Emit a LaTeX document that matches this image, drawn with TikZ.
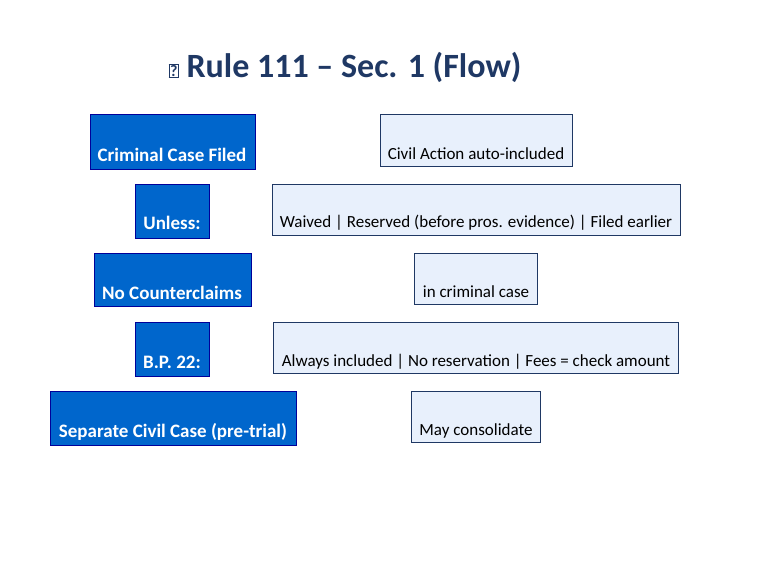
\documentclass[tikz,border=0pt]{standalone}
\usepackage{fontspec}
\setmainfont{Carlito}
\begin{document}
\begin{tikzpicture}[x=1pt,y=-1pt,
 bbox/.style={draw=blue!60!black,fill={rgb,255:red,0;green,102;blue,204},line width=0.8pt,anchor=north west,inner sep=0},
 lbox/.style={draw={rgb,255:red,31;green,56;blue,100},fill={rgb,255:red,232;green,240;blue,252},line width=0.6pt,anchor=north west,inner sep=0},
 btxt/.style={anchor=base,text=white,font=\bfseries\fontsize{19}{22}\selectfont,inner sep=0},
 ltxt/.style={anchor=base,text=black,font=\fontsize{17}{20}\selectfont,inner sep=0}]
\useasboundingbox (0,0) rectangle (768,576);
\node[anchor=base,inner sep=0,text={rgb,255:red,31;green,56;blue,100},font=\bfseries\fontsize{34}{40}\selectfont] (title) at (345,77)
 {\raisebox{1pt}{\setlength{\fboxsep}{1pt}\fbox{\fontsize{16}{16}\selectfont ?}} Rule 111 – Sec. 1 (Flow)};
\node[bbox,minimum width=165,minimum height=55] (a) at (90,114) {};
\node[btxt] (at) at (172,161) {Criminal Case Filed};
\node[bbox,minimum width=74,minimum height=54] (b) at (135,184) {};
\node[btxt] (bt) at (172,229) {Unless:};
\node[bbox,minimum width=157,minimum height=53] (c) at (94,253) {};
\node[btxt] (ct) at (172,299) {No Counterclaims};
\node[bbox,minimum width=74,minimum height=54] (d) at (135,322) {};
\node[btxt] (dt) at (172,368) {B.P. 22:};
\node[bbox,minimum width=246,minimum height=54] (e) at (50,391) {};
\node[btxt] (et) at (173,437) {Separate Civil Case (pre-trial)};
\node[lbox,minimum width=192,minimum height=52] (f) at (380,114) {};
\node[ltxt] (ft) at (476,159) {Civil Action auto-included};
\node[lbox,minimum width=408,minimum height=51] (g) at (272,184) {};
\node[ltxt] (gt) at (476,227) {Waived | Reserved (before pros. evidence) | Filed earlier};
\node[lbox,minimum width=123,minimum height=51] (h) at (414,253) {};
\node[ltxt] (ht) at (476,297) {in criminal case};
\node[lbox,minimum width=405,minimum height=51] (i) at (273,322) {};
\node[ltxt] (it) at (476,366) {Always included | No reservation | Fees = check amount};
\node[lbox,minimum width=129,minimum height=51] (j) at (411,391) {};
\node[ltxt] (jt) at (476,435) {May consolidate};
\end{tikzpicture}
\end{document}
